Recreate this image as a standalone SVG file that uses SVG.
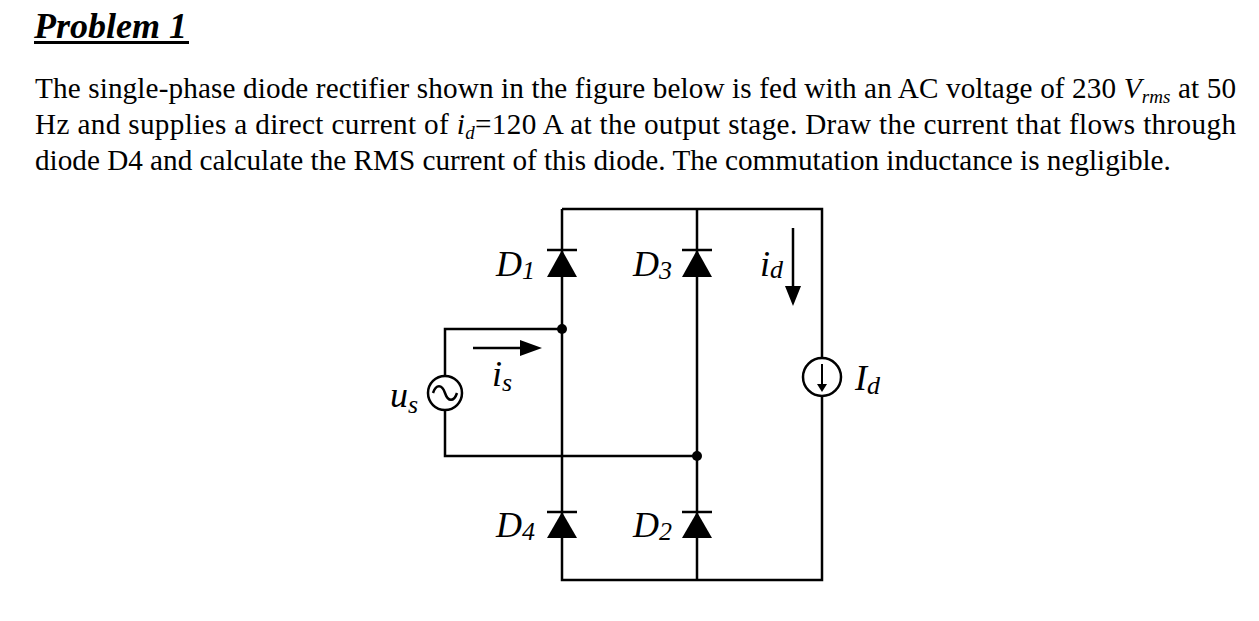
<svg xmlns="http://www.w3.org/2000/svg" width="1259" height="621" viewBox="0 0 1259 621">
<style>
.t{font-family:"Liberation Serif",serif;font-size:29.2px;fill:#000}
.m{font-family:"Liberation Serif",serif;font-style:italic;fill:#000}
.w{stroke:#000;stroke-width:2.5;fill:none}
</style>
<rect width="1259" height="621" fill="#fff"/>
<text x="34" y="38" class="t" style="font-weight:bold;font-style:italic;font-size:36px">Problem 1</text>
<rect x="34" y="41" width="155" height="3" fill="#000"/>
<text x="35" y="98" class="t" textLength="1201" lengthAdjust="spacing">The single-phase diode rectifier shown in the figure below is fed with an AC voltage of 230 <tspan font-style="italic">V</tspan><tspan font-style="italic" font-size="19" dy="5">rms</tspan><tspan dy="-5"> at 50</tspan></text>
<text x="35" y="134" class="t" textLength="1201" lengthAdjust="spacing">Hz and supplies a direct current of <tspan font-style="italic">i</tspan><tspan font-style="italic" font-size="19" dy="5">d</tspan><tspan dy="-5">=120 A at the output stage. Draw the current that flows through</tspan></text>
<text x="35" y="170" class="t">diode D4 and calculate the RMS current of this diode. The commutation inductance is negligible.</text>
<g id="connectors" class="w">
<path d="M562 209H822V357M822 397V580H562V209M697 209V580M445 376V329H562M445 410V456H697"/>
</g>
<g id="D1"><line x1="547" y1="250" x2="577" y2="250" stroke="#000" stroke-width="2.5"/><polygon points="562,250 547,277 577,277"/><text x="496" y="276" class="m" font-size="36">D<tspan font-size="26" dy="3">1</tspan></text></g>
<g id="D3"><line x1="682" y1="250" x2="712" y2="250" stroke="#000" stroke-width="2.5"/><polygon points="697,250 682,277 712,277"/><text x="633" y="276" class="m" font-size="36">D<tspan font-size="26" dy="3">3</tspan></text></g>
<g id="D4"><line x1="547" y1="512" x2="577" y2="512" stroke="#000" stroke-width="2.5"/><polygon points="562,512 547,538 577,538"/><text x="496" y="537" class="m" font-size="36">D<tspan font-size="26" dy="3">4</tspan></text></g>
<g id="D2"><line x1="682" y1="512" x2="712" y2="512" stroke="#000" stroke-width="2.5"/><polygon points="697,512 682,538 712,538"/><text x="633" y="537" class="m" font-size="36">D<tspan font-size="26" dy="3">2</tspan></text></g>
<g id="nodes"><circle cx="562" cy="329" r="5"/><circle cx="697" cy="456" r="5"/></g>
<g id="us"><circle cx="445" cy="393" r="17" class="w"/><path d="M433 393c3-9 9-9 12 0s9 9 12 0" class="w"/><text x="390" y="407" class="m" font-size="36">u<tspan font-size="26" dy="6">s</tspan></text></g>
<g id="is"><line x1="473" y1="348" x2="524" y2="348" stroke="#000" stroke-width="2.5"/><polygon points="520,340 542,348 520,356"/><text x="492" y="386" class="m" font-size="36">i<tspan font-size="26" dy="5">s</tspan></text></g>
<g id="id"><line x1="793" y1="228" x2="793" y2="290" stroke="#000" stroke-width="2.5"/><polygon points="785,286 801,286 793,306"/><text x="760" y="276" class="m" font-size="36">i<tspan font-size="26" dy="2">d</tspan></text></g>
<g id="Id"><circle cx="822" cy="377" r="19" class="w" fill="#fff"/><line x1="822" y1="364" x2="822" y2="388" stroke="#000" stroke-width="2"/><polygon points="817,384 827,384 822,392"/><text x="855" y="390" class="m" font-size="36">I<tspan font-size="26" dy="4">d</tspan></text></g>
</svg>
